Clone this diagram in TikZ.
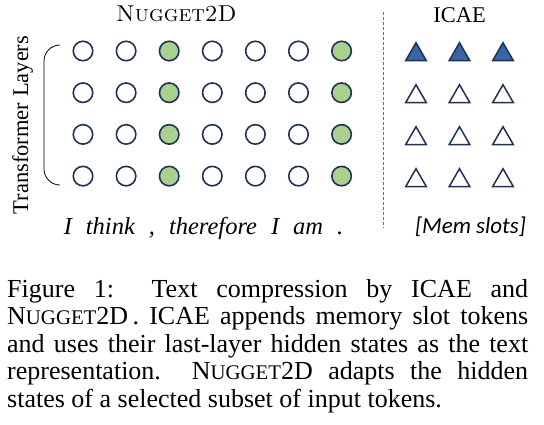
\documentclass[tikz,border=0pt]{standalone}
\usepackage{fontspec}
\newfontfamily\timesfont{Liberation Serif}
\newfontfamily\calibrifont{Carlito}
\usetikzlibrary{shapes.geometric}
\definecolor{tokenedge}{HTML}{1F3256}
\definecolor{nuggetgreen}{HTML}{A9D18E}
\definecolor{memblue}{HTML}{3A64A6}
\definecolor{splitblue}{HTML}{4472C4}
\newcommand{\nugcap}{N{\fontsize{20.8}{22}\selectfont UGGET}2D}

\begin{document}
\begin{tikzpicture}[x=1pt,y=-1pt,
  token/.style={circle,draw=tokenedge,line width=1.6pt,minimum size=19.5pt,inner sep=0pt},
  nugget/.style={token,fill=nuggetgreen},
  memslot/.style={regular polygon,regular polygon sides=3,draw=tokenedge,line width=1.5pt,minimum size=24pt,inner sep=0pt},
  memfilled/.style={memslot,fill=memblue}]
\useasboundingbox (0,0) rectangle (544,424);
% hidden states of the input tokens
\foreach \row in {0,...,3}{
  \foreach \col in {0,...,6}{
    \ifnum\col=2 \def\kind{nugget}\else\ifnum\col=6 \def\kind{nugget}\else\def\kind{token}\fi\fi
    \node[\kind] (tok-\row-\col) at (83+43.1*\col, 51+41.7*\row) {};
  }
}
% memory slots
\foreach \row in {0,...,3}{
  \foreach \col in {0,...,2}{
    \ifnum\row=0 \def\kind{memfilled}\else\def\kind{memslot}\fi
    \node[\kind] (mem-\row-\col) at (416+43.5*\col, 54.7+42*\row) {};
  }
}
\draw[line width=0.8pt, rounded corners=16pt] (60,45) -| (44,115) |- (60,185);
\coordinate (split-top) at (383,12);
\coordinate (split-bot) at (383,228);
\draw[splitblue, dash pattern=on 3pt off 2pt, line width=0.9pt] (split-top) -- (split-bot);
\node[font=\fontsize{23}{26}\selectfont, anchor=base] (nugget-title) at (176.5,21) {\textsc{Nugget2D}};
\node[font=\timesfont\fontsize{22.5}{26}\selectfont, anchor=base] (icae-title) at (459.5,22) {ICAE};
\node[font=\timesfont\fontsize{22.5}{26}\selectfont, rotate=90, anchor=base] (layers-label) at (28,125) {Transformer Layers};
\node[font=\timesfont\itshape\fontsize{24.5}{28}\selectfont, anchor=base] (sentence) at (203.5,234) {\spaceskip=14pt\relax I think , therefore I am .};
\node[font=\calibrifont\itshape\fontsize{23}{27}\selectfont, anchor=base] (mem-label) at (470.5,233) {[Mem slots]};
\node[font=\timesfont\fontsize{26}{27.5}\selectfont, text width=521pt, align=justify, anchor=base west, inner sep=0pt] (caption) at (7,297)
  {Figure 1:\ \ Text compression by ICAE and\linebreak
   \nugcap\,. ICAE appends memory slot tokens\linebreak
   and uses their last-layer hidden states as the text\linebreak
   representation.\ \ \nugcap\ adapts the hidden\linebreak
   states of a selected subset of input tokens.};
\end{tikzpicture}
\end{document}
